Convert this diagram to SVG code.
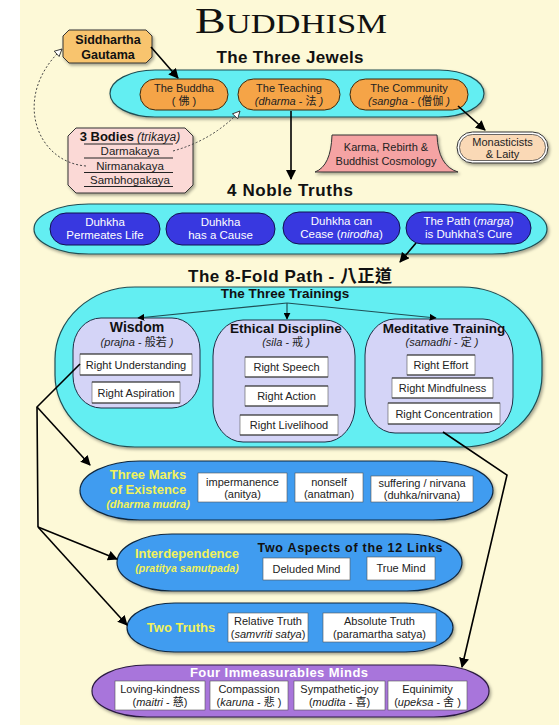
<svg xmlns="http://www.w3.org/2000/svg" width="559" height="725" viewBox="0 0 559 725" font-size="11">
<defs>
<filter id="sh" x="-10%" y="-10%" width="125%" height="135%">
<feDropShadow dx="1.5" dy="2" stdDeviation="1.5" flood-color="#000" flood-opacity="0.35"/>
</filter>
<marker id="ah" viewBox="0 0 10 10" refX="9" refY="5" markerWidth="7" markerHeight="7" orient="auto" markerUnits="userSpaceOnUse">
<path d="M0,0 L10,5 L0,10 Z" fill="#000"/>
</marker>
<marker id="ah2" viewBox="0 0 10 10" refX="9" refY="5" markerWidth="10" markerHeight="10" orient="auto" markerUnits="userSpaceOnUse">
<path d="M0,0 L10,5 L0,10 Z" fill="#000"/>
</marker>
<marker id="ho" viewBox="0 0 10 10" refX="9" refY="5" markerWidth="9" markerHeight="9" orient="auto" markerUnits="userSpaceOnUse">
<path d="M1,1 L9,5 L1,9 Z" fill="#fff" stroke="#333" stroke-width="1"/>
</marker>
</defs>
<style>
text{font-family:"Liberation Sans","Noto Sans CJK TC",sans-serif;text-anchor:middle;fill:#222}
.h{font-weight:bold;fill:#111}
.y{font-weight:bold;fill:#F2F25A}
.w{fill:#fff}
.i{font-style:italic}
.cy{fill:#64EEF2;stroke:#1F4F55;stroke-width:1.2}
.or{fill:#F5A447;stroke:#3A2A10;stroke-width:1}
.bp{fill:#3838E0;stroke:#101050;stroke-width:1}
.lv{fill:#D4D4F7;stroke:#1F2F45;stroke-width:1}
.bl{fill:#409CF0;stroke:#102840;stroke-width:1.2}
.pu{fill:#A875DB;stroke:#2A1A40;stroke-width:1.2}
.wb{fill:#fff;stroke:#555;stroke-width:0.6}
.ed{stroke:#333;stroke-width:1.2;fill:none}
.ln{stroke:#000;stroke-width:1.6;fill:none}
.ds{stroke:#444;stroke-width:1;stroke-dasharray:2 2;fill:none}
</style>
<rect x="0" y="0" width="559" height="725" fill="#fff"/>
<rect x="20" y="0" width="539" height="725" fill="#FDF9D7"/>
<text x="291" y="33" style="font-family:'Liberation Serif',serif;fill:#111" textLength="192" lengthAdjust="spacingAndGlyphs"><tspan font-size="36">B</tspan><tspan font-size="27">UDDHISM</tspan></text>

<g id="three-jewels">
<text class="h" x="290" y="63" font-size="17" textLength="147">The Three Jewels</text>
<rect class="cy" x="110" y="70" width="374" height="47" rx="45" ry="23.5" filter="url(#sh)"/>
</g>
<g id="buddha">
<rect class="or" x="140" y="79" width="88" height="31" rx="15.5"/>
<text x="184" y="92">The Buddha</text><text x="184" y="105">( 佛 )</text>
</g>
<g id="teaching">
<rect class="or" x="238" y="79" width="102" height="31" rx="15.5"/>
<text x="289" y="92">The Teaching</text><text x="289" y="105"><tspan class="i">(dharma</tspan> - 法 <tspan class="i">)</tspan></text>
</g>
<g id="community">
<rect class="or" x="350" y="79" width="118" height="31" rx="15.5"/>
<text x="409" y="92">The Community</text><text x="409" y="105"><tspan class="i">(sangha</tspan> - (僧伽 <tspan class="i">)</tspan></text>
</g>
<g id="siddhartha">
<path d="M69,30 H146 L152,36 V57 L146,63 H69 L63,57 V36 Z" fill="#F8C46E" stroke="#333" stroke-width="1" filter="url(#sh)"/>
<text class="h" x="108" y="44" font-size="12.5">Siddhartha</text><text class="h" x="108" y="59" font-size="12.5">Gautama</text>
</g>
<g id="three-bodies">
<path d="M76,128 H185 L193,136 V185 L185,193 H76 L68,185 V136 Z" fill="#FBD9D6" stroke="#333" stroke-width="1" filter="url(#sh)"/>
<text x="130" y="141"><tspan class="h" font-size="13">3 Bodies</tspan> <tspan class="i" font-size="12">(trikaya)</tspan></text>
<text x="130" y="155" font-size="11.5">Darmakaya</text>
<text x="130" y="169.5" font-size="11.5">Nirmanakaya</text>
<text x="130" y="183.5" font-size="11.5">Sambhogakaya</text>
<path d="M84,144 H173 M84,158 H173 M84,172.5 H173 M84,186.5 H173" stroke="#222" stroke-width="1"/>
</g>
<g id="karma">
<path d="M332,135 L437,135 Q438,166 458,172 L315,172 Q331,166 332,135 Z" fill="#F5A3A3" stroke="#333" stroke-width="1" filter="url(#sh)"/>
<text x="386" y="151">Karma, Rebirth &amp;</text><text x="386" y="165">Buddhist Cosmology</text>
</g>
<g id="monasticists">
<rect x="457" y="132" width="91" height="31" rx="15.5" fill="#fff" stroke="#333" stroke-width="1" filter="url(#sh)"/>
<rect x="459.5" y="134.5" width="86" height="26" rx="13" fill="#FAD9B6" stroke="#444" stroke-width="0.8"/>
<text x="502.5" y="145.5">Monasticists</text><text x="502.5" y="158">&amp; Laity</text>
</g>

<g id="noble-truths">
<text class="h" x="290" y="196" font-size="17" textLength="126">4 Noble Truths</text>
<rect class="cy" x="34" y="204" width="513" height="50" rx="55" ry="25" filter="url(#sh)"/>
</g>
<g id="nt1"><rect class="bp" x="50" y="213" width="110" height="32" rx="16"/><text class="w" x="105" y="226" font-size="11.5">Duhkha</text><text class="w" x="105" y="239" font-size="11.5">Permeates Life</text></g>
<g id="nt2"><rect class="bp" x="166" y="213" width="109" height="32" rx="16"/><text class="w" x="220.5" y="226" font-size="11.5">Duhkha</text><text class="w" x="220.5" y="239" font-size="11.5">has a Cause</text></g>
<g id="nt3"><rect class="bp" x="283" y="212" width="117" height="32" rx="16"/><text class="w" x="341.5" y="225" font-size="11.5">Duhkha can</text><text class="w" x="341.5" y="238" font-size="11.5">Cease (<tspan class="i">nirodha</tspan>)</text></g>
<g id="nt4"><rect class="bp" x="406" y="212" width="125" height="32" rx="16"/><text class="w" x="468.5" y="225" font-size="11.5">The Path (<tspan class="i">marga</tspan>)</text><text class="w" x="468.5" y="238" font-size="11.5">is Duhkha's Cure</text></g>

<g id="eightfold">
<text class="h" x="290" y="282" font-size="17" textLength="204">The 8-Fold Path - 八正道</text>
<rect class="cy" x="55" y="287" width="487" height="160" rx="80" ry="72" filter="url(#sh)"/>
<text class="h" x="285" y="298" font-size="13.5">The Three Trainings</text>
</g>
<g id="wisdom">
<rect class="lv" x="73" y="318" width="127" height="90" rx="28" ry="32"/>
<text class="h" x="137" y="332" font-size="14">Wisdom</text>
<text x="137" y="346"><tspan class="i">(prajna</tspan> - 般若 <tspan class="i">)</tspan></text>
<rect class="wb" x="80" y="354" width="112" height="21"/><text x="136" y="368.5">Right Understanding</text>
<rect class="wb" x="92" y="382" width="88" height="21"/><text x="136" y="396.5">Right Aspiration</text>
<path class="ed" d="M80,354 H192 M80,375 H192 M92,382 H180 M92,403 H180"/>
</g>
<g id="ethical">
<rect class="lv" x="213" y="320" width="142" height="122" rx="30" ry="36"/>
<text class="h" x="286" y="333" font-size="13.5">Ethical Discipline</text>
<text x="286" y="346"><tspan class="i">(sila</tspan> - 戒 <tspan class="i">)</tspan></text>
<rect class="wb" x="245" y="357" width="83" height="20"/><text x="286.5" y="371">Right Speech</text>
<rect class="wb" x="245" y="386" width="83" height="20"/><text x="286.5" y="400">Right Action</text>
<rect class="wb" x="240" y="415" width="98" height="20"/><text x="289" y="429">Right Livelihood</text>
<path class="ed" d="M245,357 H328 M245,377 H328 M245,386 H328 M245,406 H328 M240,415 H338 M240,435 H338"/>
</g>
<g id="meditative">
<rect class="lv" x="365" y="319" width="148" height="114" rx="30" ry="36"/>
<text class="h" x="444" y="333" font-size="13.5">Meditative Training</text>
<text x="442" y="346"><tspan class="i">(samadhi</tspan> - 定 <tspan class="i">)</tspan></text>
<rect class="wb" x="407" y="355" width="68" height="20"/><text x="441" y="369">Right Effort</text>
<rect class="wb" x="392" y="378" width="101" height="20"/><text x="442.5" y="392">Right Mindfulness</text>
<rect class="wb" x="388" y="403" width="112" height="21"/><text x="444" y="417.5">Right Concentration</text>
<path class="ed" d="M407,355 H475 M407,375 H475 M392,378 H493 M392,398 H493 M388,403 H500 M388,424 H500"/>
</g>

<g id="three-marks">
<rect class="bl" x="80" y="461" width="413" height="59" rx="60" ry="29.5" filter="url(#sh)"/>
<text class="y" x="148" y="479" font-size="13">Three Marks</text>
<text class="y" x="148" y="494" font-size="13">of Existence</text>
<text class="y i" x="148" y="508" font-size="11">(dharma mudra)</text>
<rect class="wb" x="198" y="473" width="89" height="29"/><text x="242.5" y="485.5">impermanence</text><text x="242.5" y="498">(anitya)</text>
<rect class="wb" x="295" y="473" width="68" height="29"/><text x="329" y="485.5">nonself</text><text x="329" y="498">(anatman)</text>
<rect class="wb" x="371" y="476" width="102" height="26"/><text x="422" y="487">suffering / nirvana</text><text x="422" y="499">(duhka/nirvana)</text>
</g>
<g id="interdependence">
<rect class="bl" x="117" y="534" width="345" height="57" rx="55" ry="28.5" filter="url(#sh)"/>
<text class="y" x="187" y="558" font-size="13">Interdependence</text>
<text class="y i" x="187" y="572" font-size="10.5">(pratitya samutpada)</text>
<text class="h" x="350" y="552" font-size="12.5" textLength="185">Two Aspects of the 12 Links</text>
<rect class="wb" x="263" y="558" width="87" height="22"/><text x="306.5" y="573">Deluded Mind</text>
<rect class="wb" x="367" y="557" width="68" height="23"/><text x="401" y="572">True Mind</text>
</g>
<g id="two-truths">
<rect class="bl" x="127" y="603" width="326" height="49" rx="48" ry="24.5" filter="url(#sh)"/>
<text class="y" x="181" y="632" font-size="13">Two Truths</text>
<rect class="wb" x="228" y="613" width="80" height="29"/><text x="268" y="625">Relative Truth</text><text x="268" y="638">(<tspan class="i">samvriti satya</tspan>)</text>
<rect class="wb" x="323" y="613" width="113" height="29"/><text x="379.5" y="625">Absolute Truth</text><text x="379.5" y="638">(paramartha satya)</text>
</g>
<g id="immeasurables">
<rect class="pu" x="92" y="665" width="397" height="52" rx="55" ry="26" filter="url(#sh)"/>
<text class="h w" x="279" y="677" font-size="13" textLength="178">Four Immeasurables Minds</text>
<rect class="wb" x="115" y="681" width="90" height="29"/><text x="160" y="693">Loving-kindness</text><text x="160" y="706">(<tspan class="i">maitri</tspan> - 慈)</text>
<rect class="wb" x="210" y="681" width="78" height="29"/><text x="249" y="693">Compassion</text><text x="249" y="706">(<tspan class="i">karuna</tspan> - 悲 )</text>
<rect class="wb" x="294" y="681" width="91" height="29"/><text x="339.5" y="693">Sympathetic-joy</text><text x="339.5" y="706">(<tspan class="i">mudita</tspan> - 喜)</text>
<rect class="wb" x="388" y="681" width="79" height="29"/><text x="427.5" y="693">Equinimity</text><text x="427.5" y="706">(<tspan class="i">upeksa</tspan> - 舍 )</text>
</g>

<g id="connectors">
<line class="ln" x1="151" y1="47" x2="178" y2="78" marker-end="url(#ah2)"/>
<line class="ln" x1="291" y1="111" x2="291" y2="179" marker-end="url(#ah2)"/>
<line class="ln" x1="458" y1="106" x2="485" y2="130" marker-end="url(#ah2)"/>
<line class="ln" x1="416" y1="243" x2="400" y2="262" marker-end="url(#ah2)"/>
<path class="ds" d="M86,166 C35,162 12,95 62,49" marker-end="url(#ho)"/>
<path class="ds" d="M173,151 Q213,140 240,111" marker-end="url(#ho)"/>
<g stroke="#1F4F55" stroke-width="1.2" fill="none">
<line x1="287" y1="303" x2="138" y2="318" marker-end="url(#ah)"/>
<line x1="287" y1="303" x2="287" y2="319" marker-end="url(#ah)"/>
<line x1="287" y1="303" x2="436" y2="318" marker-end="url(#ah)"/>
</g>
<polyline class="ln" points="80,364 37,407 38,527"/>
<line class="ln" x1="37" y1="407" x2="90" y2="465" marker-end="url(#ah2)"/>
<line class="ln" x1="38" y1="527" x2="117" y2="559" marker-end="url(#ah2)"/>
<line class="ln" x1="38" y1="527" x2="127" y2="625" marker-end="url(#ah2)"/>
<polyline class="ln" points="443,432 507,475 462,667" marker-end="url(#ah2)"/>
</g>
</svg>
